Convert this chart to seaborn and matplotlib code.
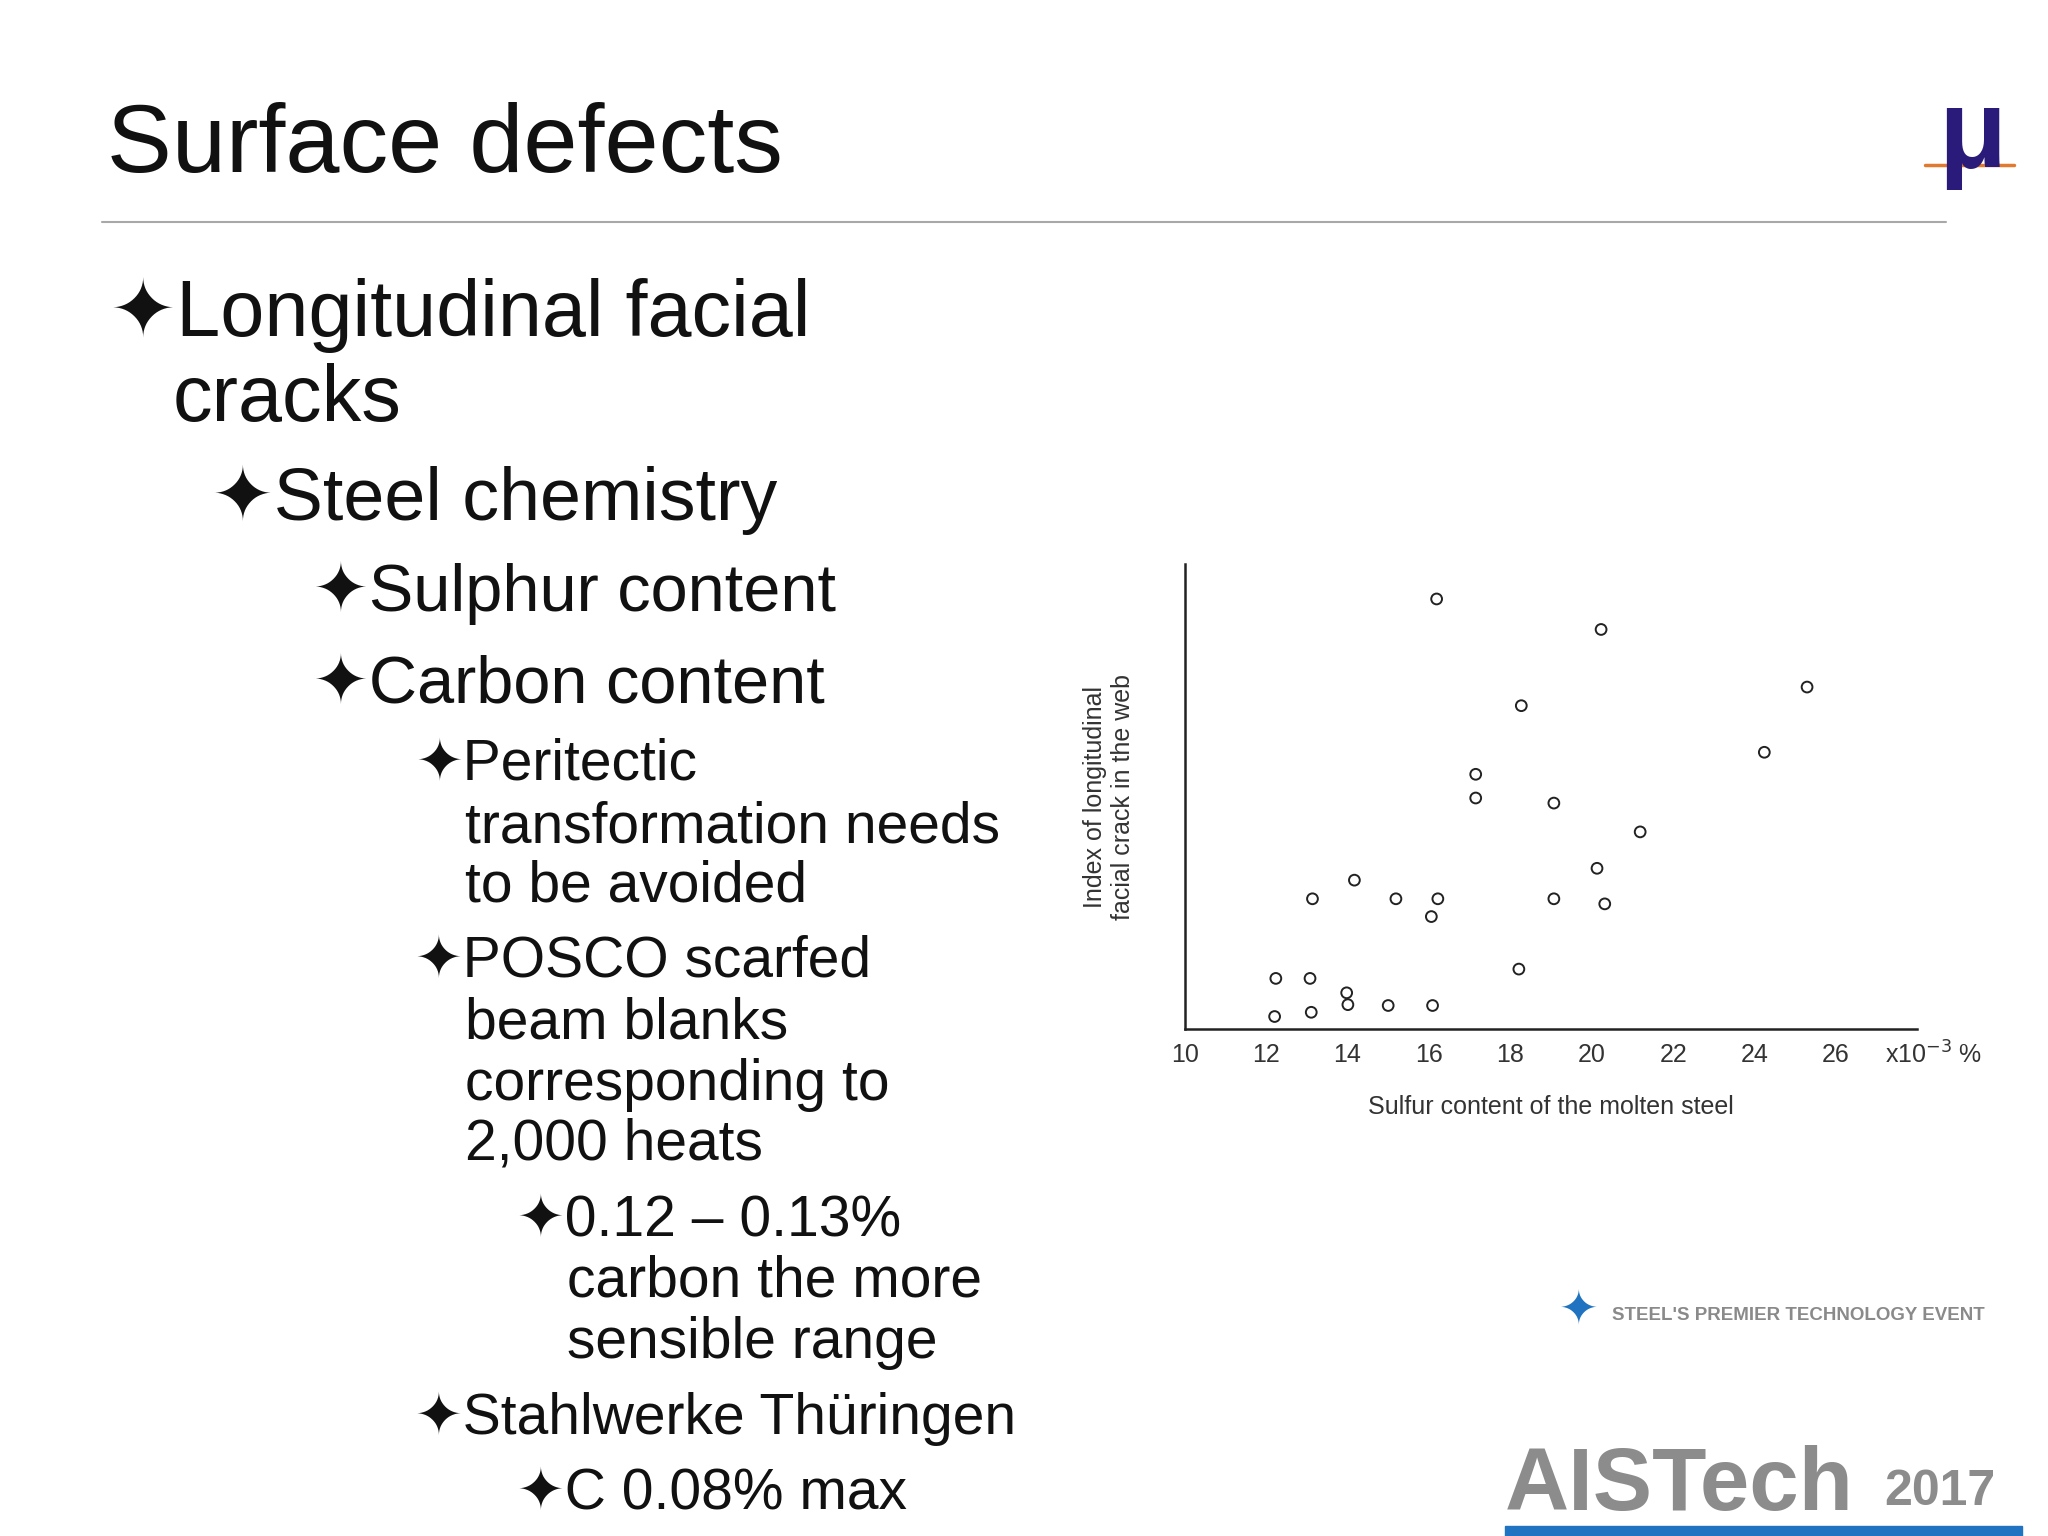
import matplotlib.pyplot as plt
import seaborn as sns
import pandas as pd

# ---------------------------------------------------------------------------
# Data (x in 1e-3 %, y index in arbitrary tick units)
# ---------------------------------------------------------------------------
SULFUR = [16.19, 20.23, 25.29, 18.27, 24.24, 17.15, 17.15, 19.07, 21.19, 20.13,
          14.17, 13.14, 15.19, 16.22, 19.07, 20.32, 16.06, 18.21, 12.24, 13.08,
          13.98, 14.01, 15.00, 16.09, 12.21, 13.11]
CRACK_INDEX = [5.08, 4.72, 4.04, 3.82, 3.27, 3.01, 2.73, 2.67, 2.33, 1.90,
               1.76, 1.54, 1.54, 1.54, 1.54, 1.48, 1.33, 0.71, 0.60, 0.60,
               0.43, 0.29, 0.28, 0.28, 0.15, 0.20]
X_TICKS = [10, 12, 14, 16, 18, 20, 22, 24, 26, 28]
X_TICK_LABELS = ["10", "12", "14", "16", "18", "20", "22", "24", "26", ""]
Y_TICKS = [1, 2, 3, 4, 5]

sns.set_style("white")
plt.rcParams["font.family"] = ["Liberation Sans", "DejaVu Sans"]

W, H = 1568.0, 1176.0  # reference display coordinates


def fx(px):
    return px / W


def fy(py):
    return 1 - py / H


fig = plt.figure(figsize=(20.48, 15.36), dpi=100)
fig.patch.set_facecolor("white")

# ── Slide text ──────────────────────────────────────────────────────────────
fig.text(fx(82), fy(132), "Surface defects", fontsize=70, va="baseline", color="#111111")
fig.add_artist(plt.Line2D([fx(78), fx(1490)], [fy(170), fy(170)],
                          color="#a8a8a8", lw=1.5))

BULLET = "\u2726"
lines = [
    (84, 257, BULLET + "Longitudinal facial", 57),
    (132, 322, "cracks", 57),
    (162, 398, BULLET + "Steel chemistry", 53),
    (240, 468, BULLET + "Sulphur content", 48),
    (240, 538, BULLET + "Carbon content", 48),
    (318, 597, BULLET + "Peritectic", 41),
    (356, 645, "transformation needs", 41),
    (356, 690, "to be avoided", 41),
    (318, 748, BULLET + "POSCO scarfed", 41),
    (356, 795, "beam blanks", 41),
    (356, 842, "corresponding to", 41),
    (356, 888, "2,000 heats", 41),
    (396, 946, BULLET + "0.12 \u2013 0.13%", 41),
    (434, 993, "carbon the more", 41),
    (434, 1040, "sensible range", 41),
    (318, 1098, BULLET + "Stahlwerke Th\u00fcringen", 41),
    (396, 1155, BULLET + "C 0.08% max", 41),
]
for x, y, s, size in lines:
    fig.text(fx(x), fy(y), s, fontsize=size, va="baseline", color="#111111")

# ── Logos (approximations) ─────────────────────────────────────────────────
fig.text(fx(1510), fy(128), "\u03bc", fontsize=80, ha="center", va="baseline",
         color="#2a1a7a", fontweight="bold")
fig.add_artist(plt.Line2D([fx(1474), fx(1542)], [fy(126), fy(126)],
                          color="#e07a30", lw=2.5))
fig.text(fx(1208), fy(1005), "\u2726", fontsize=34, ha="center", va="center", color="#1f73c0")
fig.text(fx(1234), fy(1011), "STEEL'S PREMIER TECHNOLOGY EVENT", fontsize=13.5,
         va="baseline", color="#8a8a8a", fontweight="bold")
fig.text(fx(1152), fy(1156), "AISTech", fontsize=64, va="baseline", color="#8c8c8c",
         fontweight="bold")
fig.text(fx(1528), fy(1152), "2017", fontsize=36, ha="right", va="baseline",
         color="#8c8c8c", fontweight="bold")
fig.add_artist(plt.Rectangle((fx(1152), 0), fx(1548) - fx(1152), fy(1168),
                             color="#1f73c0", transform=fig.transFigure))

# ── Scatter chart ──────────────────────────────────────────────────────────
ax = fig.add_axes([fx(907), fy(788), fx(1468) - fx(907), (788 - 432) / H])
df = pd.DataFrame({"sulfur": SULFUR, "index": CRACK_INDEX})
sns.scatterplot(data=df, x="sulfur", y="index", ax=ax, marker="o", s=60,
                facecolor="none", edgecolor="#222222", linewidth=1.4)

ax.set_xlim(10, 28)
ax.set_ylim(0, 5.49)
ax.set_xticks(X_TICKS)
ax.set_xticklabels(X_TICK_LABELS, fontsize=18, color="#333333")
ax.set_yticks(Y_TICKS)
ax.set_yticklabels([])
ax.tick_params(axis="both", direction="in", length=9, width=1.6, colors="#333333",
               labelcolor="#333333", pad=10)
ax.set_xlabel("Sulfur content of the molten steel", fontsize=18, color="#333333", labelpad=20)
ax.set_ylabel("Index of longitudinal\nfacial crack in the web", fontsize=18,
              color="#333333", labelpad=26)
for side in ["top", "right"]:
    ax.spines[side].set_visible(False)
for side in ["left", "bottom"]:
    ax.spines[side].set_color("#222222")
    ax.spines[side].set_linewidth(1.8)
ax.text(28.4, -0.3, "x10$^{-3}$ %", fontsize=18, ha="center", va="center",
        color="#333333", clip_on=False)

fig.savefig("out.png", dpi=100, facecolor="white")
